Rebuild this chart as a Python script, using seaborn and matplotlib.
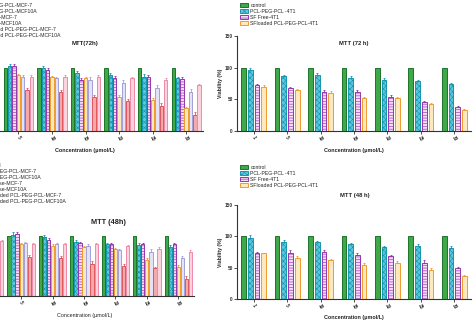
import numpy as np
import pandas as pd
import matplotlib
matplotlib.use("Agg")
import matplotlib.pyplot as plt
from matplotlib.patches import Patch
import seaborn as sns

sns.set_style("ticks")
plt.rcParams["font.family"] = ["Liberation Sans", "DejaVu Sans"]
plt.rcParams["hatch.linewidth"] = 0.45

# ---------------- data ----------------
conc = ["1", "5", "10", "15", "20", "25", "30"]

# MCF panels (left) series names
mcf_series = ["control", "PCL-PEG-PCL-MCF-7", "PCL-PEG-PCL-MCF10A",
              "SF Free-MCF-7", "SF Free-MCF10A",
              "SFloaded PCL-PEG-PCL-MCF-7", "SFloaded PCL-PEG-PCL-MCF10A"]
mcf48_labels = ["control", "PCL-PEG-PCL-MCF-7", "PCL-PEG-PCL-MCF10A",
                "SF Base-MCF-7", "SF Base-MCF10A",
                "SF loaded PCL-PEG-PCL-MCF-7", "SF loaded PCL-PEG-PCL-MCF10A"]

# 72 h, MCF-7 / MCF10A
tl_control = [100, 100, 100, 100, 100, 100, 100]
tl_peg_mcf7 = [100, 102, 99, 92, 88, 86, 83]
tl_peg_mcf10a = [100, 102, 97, 81, 84, 85, 82]
tl_free_mcf7 = [90, 88, 85, 83, 54, 49, 36]
tl_free_mcf10a = [88, 85, 83, 81, 76, 68, 61]
tl_load_mcf7 = [75, 65, 62, 54, 47, 40, 26]
tl_load_mcf10a = [88, 86, 86, 86, 84, 81, 73]
tl_err = [[0] * 7, [4, 4, 3, 3, 3, 4, 3], [3, 3, 3, 3, 3, 3, 3],
          [2, 2, 2, 2, 3, 3, 2], [3, 4, 3, 4, 5, 4, 5],
          [3, 3, 3, 3, 4, 4, 4], [2, 2, 2, 2, 2, 2, 2]]

# 48 h, MCF-7 / MCF10A
bl_control = [100, 100, 100, 100, 100, 100, 100]
bl_peg_mcf7 = [100, 102, 99, 90, 86, 85, 82]
bl_peg_mcf10a = [100, 103, 93, 88, 87, 86, 86]
bl_free_mcf7 = [90, 86, 84, 82, 78, 60, 49]
bl_free_mcf10a = [90, 88, 86, 84, 76, 74, 64]
bl_load_mcf7 = [75, 65, 63, 54, 50, 46, 29]
bl_load_mcf10a = [92, 86, 86, 86, 83, 79, 74]
bl_err = [[0] * 7, [4, 4, 3, 3, 2, 3, 3], [3, 3, 3, 2, 2, 2, 2],
          [2, 2, 2, 2, 2, 3, 3], [2, 2, 2, 2, 3, 4, 2],
          [3, 3, 3, 4, 3, 3, 4], [2, 2, 2, 2, 2, 2, 2]]

# 4T1 panels (right)
t1_series = ["control", "PCL-PEG-PCL -4T1", "SF Free-4T1", "SFloaded PCL-PEG-PCL-4T1"]
tr_control = [100, 100, 100, 100, 100, 100, 100]
tr_peg = [96, 87, 89, 84, 81, 79, 74]
tr_free = [72, 68, 62, 62, 54, 46, 38]
tr_load = [69, 64, 60, 52, 52, 42, 33]
tr_err = [[0] * 7, [4, 2, 2, 3, 3, 2, 2], [2, 2, 2, 3, 3, 2, 1], [3, 2, 3, 2, 2, 2, 2]]

br_control = [100, 100, 100, 100, 100, 100, 100]
br_peg = [98, 91, 91, 87, 83, 85, 82]
br_free = [74, 74, 75, 71, 68, 58, 49]
br_load = [73, 66, 63, 55, 58, 46, 36]
br_err = [[0] * 7, [4, 3, 2, 3, 2, 3, 2], [1, 4, 3, 3, 2, 4, 2], [1, 2, 1, 3, 2, 3, 2]]

# ---------------- styles ----------------
GREEN = dict(face="#3fa94a", edge="#1b7429", hatch=None)
TEAL = dict(face="#62c6da", edge="#1396b2", hatch="xxxxxx")
PURP = dict(face="#f3dcf6", edge="#9636ad", hatch="------")
ORNG = dict(face="#fde8c0", edge="#f09c2e", hatch=None)
LAV = dict(face="#e4e2f6", edge="#a3a0d8", hatch=None)
RED = dict(face="#f4a9aa", edge="#e2575c", hatch=None)
PINK = dict(face="#fbd3de", edge="#ee8aa8", hatch=None)
mcf_styles = [GREEN, TEAL, PURP, ORNG, LAV, RED, PINK]
t1_styles = [GREEN, TEAL, PURP, ORNG]

W, H = 474, 324
fig = plt.figure(figsize=(W / 100, H / 100), dpi=100)


def ax_px(l, r, t, b):
    return fig.add_axes([l / W, 1 - b / H, (r - l) / W, (b - t) / H])


def long_df(series_names, values):
    rows = []
    for name, vals in zip(series_names, values):
        for c, v in zip(conc, vals):
            rows.append((c, name, v))
    return pd.DataFrame(rows, columns=["conc", "series", "viability"])


def draw(ax, series_names, values, errs, styles, width, gap):
    df = long_df(series_names, values)
    sns.barplot(data=df, x="conc", y="viability", hue="series", order=conc,
                hue_order=series_names, palette=[s["face"] for s in styles],
                saturation=1, width=width, gap=gap, errorbar=None,
                legend=False, ax=ax)
    for cont, st, er in zip(ax.containers, styles, errs):
        for p, e in zip(cont, er):
            p.set_edgecolor(st["edge"])
            p.set_linewidth(0.7)
            if st["hatch"]:
                p.set_hatch(st["hatch"])
            if e > 0:
                xc = p.get_x() + p.get_width() / 2
                ax.errorbar(xc, p.get_height(), yerr=[[0], [e]], color=st["edge"],
                            capsize=1.0, elinewidth=0.6, capthick=0.6, fmt="none")
    ax.set_ylim(0, 150)
    ax.set_yticks([0, 50, 100, 150])
    ax.set_xlim(-0.5, 6.5)
    ax.set_xlabel("")
    ax.set_ylabel("")
    for sp in ["top", "right"]:
        ax.spines[sp].set_visible(False)
    for sp in ["left", "bottom"]:
        ax.spines[sp].set_linewidth(0.8)
        ax.spines[sp].set_color("#333333")
    ax.tick_params(axis="both", length=2, width=0.6, labelsize=3.4, pad=1, colors="#333333")
    for lab in ax.get_xticklabels():
        lab.set_rotation(-60)
        lab.set_ha("center")
        lab.set_fontweight("bold")
    for lab in ax.get_yticklabels():
        lab.set_fontweight("bold")


def legend(ax, labels, styles, x, y):
    handles = [Patch(facecolor=s["face"], edgecolor=s["edge"], hatch=s["hatch"], linewidth=0.7)
               for s in styles]
    ax.legend(handles, labels, loc="upper left", bbox_to_anchor=(x / W, 1 - y / H),
              bbox_transform=fig.transFigure, frameon=False, fontsize=3.7,
              handlelength=1.5, handleheight=0.75, handletextpad=0.5,
              labelspacing=0.2, borderpad=0, borderaxespad=0)


def ftext(x, y, s, size, weight="normal", rot=0):
    fig.text(x / W, 1 - y / H, s, fontsize=size, fontweight=weight, rotation=rot,
             ha="center", va="center", color="#222222")


# ---- top-left: 72 h MCF ----
ax_tl = ax_px(-32, 203, 36, 131)
draw(ax_tl, mcf_series, [tl_control, tl_peg_mcf7, tl_peg_mcf10a, tl_free_mcf7,
                         tl_free_mcf10a, tl_load_mcf7, tl_load_mcf10a],
     tl_err, mcf_styles, 0.9, 0.2)
legend(ax_tl, mcf_series, mcf_styles, -29, -2.8)
ftext(85, 44, "MTT(72h)", 4.4, "bold")
ftext(85, 150, "Concentration (\u03bcmol/L)", 3.9, "bold")

# ---- top-right: 72 h 4T1 ----
ax_tr = ax_px(237, 471, 36, 131)
draw(ax_tr, t1_series, [tr_control, tr_peg, tr_free, tr_load], tr_err, t1_styles, 0.8, 0.3)
ax_tr.set_ylabel("Viability (%)", fontsize=3.7, fontweight="bold", labelpad=1)
legend(ax_tr, t1_series, t1_styles, 240, 3)
ftext(354, 44, "MTT (72 h)", 4.2, "bold")
ftext(354, 150, "Concentration (\u03bcmol/L)", 3.9, "bold")

# ---- bottom-left: 48 h MCF ----
ax_bl = ax_px(-26, 194, 206, 296)
draw(ax_bl, mcf48_labels, [bl_control, bl_peg_mcf7, bl_peg_mcf10a, bl_free_mcf7,
                           bl_free_mcf10a, bl_load_mcf7, bl_load_mcf10a],
     bl_err, mcf_styles, 0.9, 0.2)
legend(ax_bl, mcf48_labels, mcf_styles, -25, 163)
ftext(108, 223, "MTT (48h)", 5.3, "bold")
ftext(85, 315, "Concentration (\u03bcmol/L)", 3.9)

# ---- bottom-right: 48 h 4T1 ----
ax_br = ax_px(237, 471, 205, 299)
draw(ax_br, t1_series, [br_control, br_peg, br_free, br_load], br_err, t1_styles, 0.8, 0.3)
ax_br.set_ylabel("Viability (%)", fontsize=3.7, fontweight="bold", labelpad=1)
legend(ax_br, t1_series, t1_styles, 240, 165)
ftext(355, 195, "MTT (48 h)", 4.2, "bold")
ftext(354, 318, "Concentration (\u03bcmol/L)", 3.9, "bold")

fig.savefig("out.png", dpi=100)
